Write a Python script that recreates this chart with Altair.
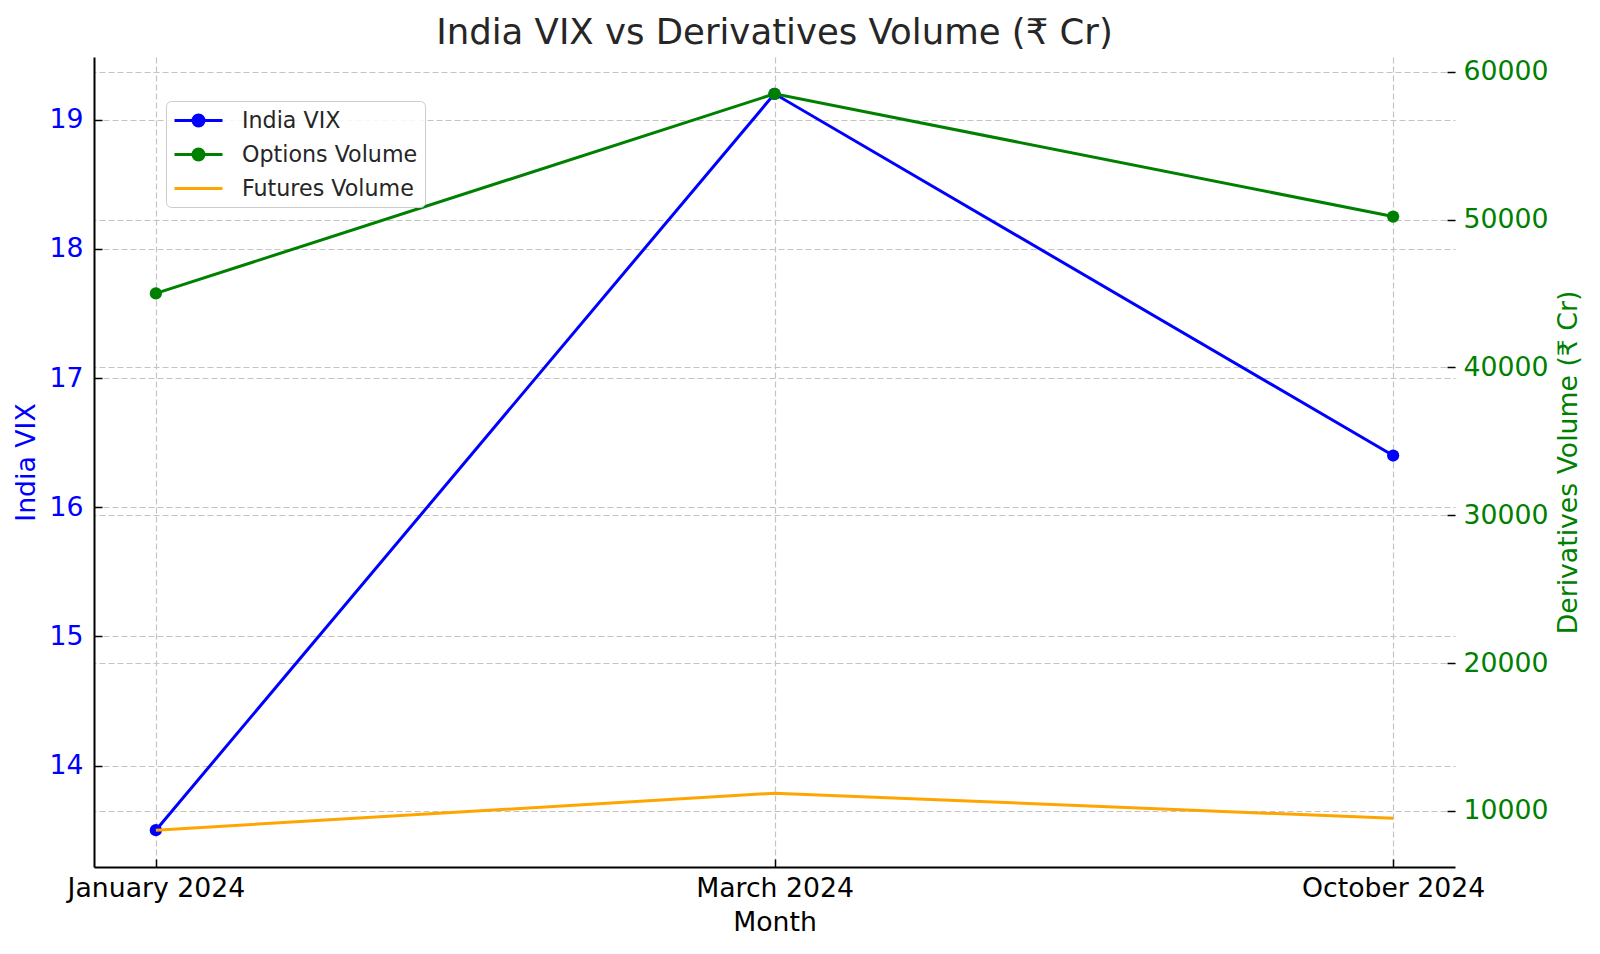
import altair as alt
import pandas as pd

months = ["January 2024", "March 2024", "October 2024"]
india_vix = [13.5, 19.2, 16.4]
options_volume = [45000, 58500, 50200]
futures_volume = [8700, 11200, 9500]

series_names = ["India VIX", "Options Volume", "Futures Volume"]
series_colors = ["#0000ff", "#008000", "#ffa500"]

vix_ticks = [14, 15, 16, 17, 18, 19]
volume_ticks = [10000, 20000, 30000, 40000, 50000, 60000]

df = pd.DataFrame({
    "month": months,
    "vix": india_vix,
    "options": options_volume,
    "futures": futures_volume,
})


def padded(values, frac=0.05):
    # matplotlib-style 5% margin around the data
    lo, hi = min(values), max(values)
    pad = (hi - lo) * frac
    return [lo - pad, hi + pad]


vix_domain = padded(india_vix)
vol_domain = padded(options_volume + futures_volume)

FONT = "DejaVu Sans"
TICK_FS = 26.7
grid_style = dict(grid=True, gridColor="#c4c4c4", gridDash=[6, 3], gridWidth=1.2)
inward = alt.ExprRef(expr="-8")

x_enc = alt.X(
    "month:N",
    sort=months,
    scale=alt.Scale(type="point", padding=0.1),
    axis=alt.Axis(
        title="Month", titleFontSize=TICK_FS, titleColor="#000000",
        titleFontWeight="normal", titlePadding=8,
        labelFontSize=TICK_FS, labelColor="#000000", labelAngle=0, labelPadding=16,
        labelLimit=400, labelOverlap=False,
        tickSize=inward, tickColor="#000000", tickWidth=1.5,
        domainColor="#000000", domainWidth=2, **grid_style,
    ),
)

vix_y = alt.Y(
    "vix:Q",
    scale=alt.Scale(domain=vix_domain, nice=False, zero=False),
    axis=alt.Axis(
        orient="left", values=vix_ticks, title="India VIX",
        titleFontSize=TICK_FS, titleColor="#0000ff", titleFontWeight="normal", titlePadding=9,
        labelFontSize=TICK_FS, labelColor="#0000ff", labelPadding=19,
        tickSize=inward, tickColor="#000000", tickWidth=1.5,
        domainColor="#000000", domainWidth=2, **grid_style,
    ),
)

vol_axis = alt.Axis(
    orient="right", values=volume_ticks, format="d", title="Derivatives Volume (₹ Cr)",
    titleFontSize=TICK_FS, titleColor="#008000", titleFontWeight="normal",
    titleAngle=270, titleBaseline="top", titlePadding=8,
    labelFontSize=TICK_FS, labelColor="#008000", labelPadding=16,
    tickSize=inward, tickColor="#000000", tickWidth=1.5,
    domain=False, **grid_style,
)
vol_scale = alt.Scale(domain=vol_domain, nice=False, zero=False)

vix_line = alt.Chart(df).mark_line(color="#0000ff", strokeWidth=3).encode(x=x_enc, y=vix_y)
vix_pts = alt.Chart(df).mark_circle(color="#0000ff", size=150, opacity=1).encode(x=x_enc, y=vix_y)
vix_layer = alt.layer(vix_line, vix_pts)

opt_line = alt.Chart(df).mark_line(color="#008000", strokeWidth=3).encode(
    x=x_enc, y=alt.Y("options:Q", scale=vol_scale, axis=vol_axis)
)
opt_pts = alt.Chart(df).mark_circle(color="#008000", size=150, opacity=1).encode(
    x=x_enc, y=alt.Y("options:Q", scale=vol_scale, axis=vol_axis)
)
fut_line = alt.Chart(df).mark_line(color="#ffa500", strokeWidth=3).encode(
    x=x_enc, y=alt.Y("futures:Q", scale=vol_scale, axis=vol_axis)
)
vol_layer = alt.layer(opt_line, opt_pts, fut_line)

# legend built from an empty point layer so each entry gets its own symbol
rings = "".join(
    f"M{c - r:.3f},0A{r},{r} 0 1,0 {c + r:.3f},0A{r},{r} 0 1,0 {c - r:.3f},0"
    for c, r in [(1.182, 0.5), (1.182, 0.273), (1.182, 0.073)]
)
line_path = "M-1,0L3.364,0"
dot_path = line_path + rings

legend_df = pd.DataFrame({"series": series_names})
leg = alt.Legend(
    title=None, orient="none", legendX=72, legendY=44,
    labelFontSize=22.2, labelColor="#262626", labelOffset=44, labelLimit=400,
    symbolSize=484, symbolStrokeWidth=3, rowPadding=9, padding=7,
    fillColor="rgba(255,255,255,0.85)", strokeColor="#cccccc", cornerRadius=5,
)
legend_layer = (
    alt.Chart(legend_df)
    .mark_point(filled=False, opacity=1, strokeWidth=3, size=484)
    .encode(
        color=alt.Color("series:N", scale=alt.Scale(domain=series_names, range=series_colors), legend=leg),
        shape=alt.Shape("series:N", scale=alt.Scale(domain=series_names, range=[dot_path, dot_path, line_path]), legend=leg),
    )
    .transform_filter("false")
)

chart = (
    alt.layer(vix_layer, vol_layer, legend_layer)
    .resolve_scale(y="independent")
    .properties(
        width=1361,
        height=810,
        title=alt.TitleParams(
            "India VIX vs Derivatives Volume (₹ Cr)", fontSize=35.5, fontWeight="normal",
            color="#262626", anchor="middle", offset=6,
        ),
        autosize=alt.AutoSizeParams(type="none"),
        padding={"left": 86, "top": 49, "right": 137, "bottom": 79},
    )
    .configure(font=FONT)
    .configure_view(stroke=None)
)

chart.save("out.html", embed_options={"renderer": "svg", "actions": False})
